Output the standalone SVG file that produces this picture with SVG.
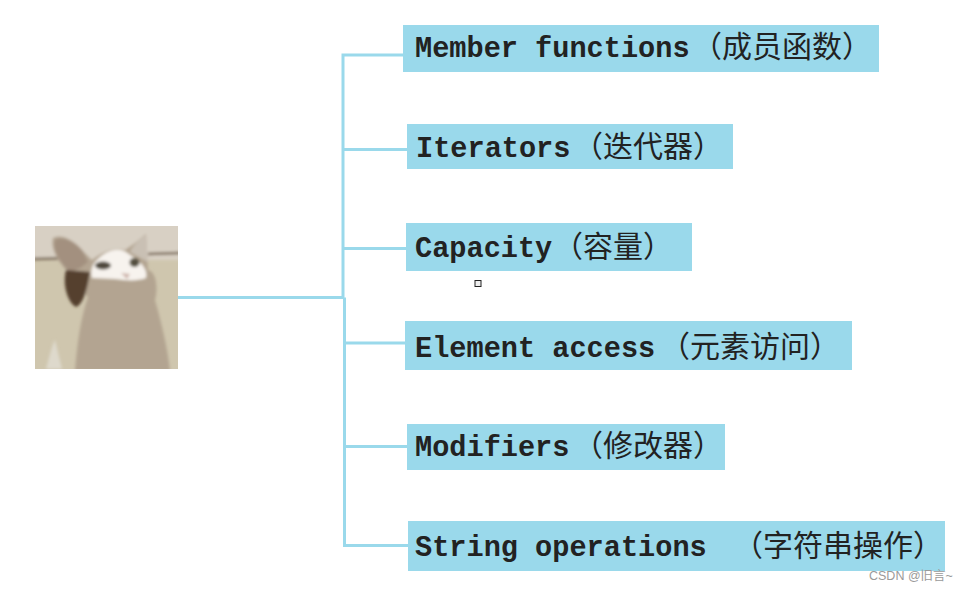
<svg xmlns="http://www.w3.org/2000/svg" width="976" height="591" viewBox="0 0 976 591">
<style>
.box{fill:#9ad9eb}
.c{fill:none;stroke:#9ad9eb;stroke-width:3}
.l{font-family:"Liberation Mono","Noto Sans CJK SC",monospace;font-size:28.6px;font-weight:700;fill:#222}
.z{font-family:"Noto Sans CJK SC","Liberation Mono",sans-serif;font-size:30px;font-weight:400;fill:#222}
.w{font-family:"Liberation Sans","Noto Sans CJK SC",sans-serif;font-size:12.5px;fill:#9a9a9a}
</style>
<defs>
<filter id="b" x="-10%" y="-10%" width="120%" height="120%"><feGaussianBlur stdDeviation="1.6"/></filter>
<clipPath id="cp"><rect x="35" y="226" width="143" height="143"/></clipPath>
</defs>
<g id="connectors">
<path class="c" d="M178 297.500H343.500M403 55H343V149.500M407 149.500H343V248.500M406 248.500H343V297.500M344.500 297.500V545.500H408M405 343H344.500M407 446.500H344.500"/>
</g>
<g id="cat">
<rect x="35" y="226" width="143" height="143" fill="#cfc6ae"/>
<g clip-path="url(#cp)"><g filter="url(#b)">
<rect x="33" y="224" width="147" height="36" fill="#d8d0c4"/>
<path d="M33 259L72 258M148 254L180 253" stroke="#7a6a58" stroke-width="2.500" fill="none"/>
<path d="M75 371C78 335 82 315 88 297C80 290 72 280 68 272C58 262 50 248 53 238C60 234 72 238 82 250L92 260C105 250 115 248 125 250L135 243L146 234L148 270C157 272 158 290 155 300C162 325 168 350 170 371Z" fill="#b3a491"/>
<path d="M55 240C62 236 72 240 82 250L88 262L80 268L70 272C60 262 52 250 55 240Z" fill="#a3907f"/>
<path d="M146 235C137 240 132 248 130 252L148 262Z" fill="#c9c0b4"/>
<path d="M66 270L90 272C88 285 84 304 76 307C68 303 62 285 66 270Z" fill="#55402e"/>
<path d="M95 262C105 250 120 245 130 255C142 262 148 270 146 278C135 282 125 280 115 279L92 278C90 272 92 266 95 262Z" fill="#f7f3ee"/>
<ellipse cx="103" cy="265.500" rx="8" ry="4" fill="#4f483c"/>
<ellipse cx="134.500" cy="262.500" rx="5" ry="4.500" fill="#55503f"/>
<path d="M121 273L130 274L127 279Z" fill="#cdb3aa"/>
<path d="M46 369C50 355 52 345 55 340L62 369Z" fill="#ded9cc"/>
</g></g>
</g>
<g id="n1"><rect class="box" x="403" y="25" width="476" height="47"/><text class="l" x="415" y="57">Member functions</text><text class="z" x="692" y="57">（成员函数）</text></g>
<g id="n2"><rect class="box" x="407" y="124" width="326" height="45"/><text class="l" x="416" y="157">Iterators</text><text class="z" x="573" y="157">（迭代器）</text></g>
<g id="n3"><rect class="box" x="406" y="223" width="286" height="48"/><text class="l" x="415" y="257">Capacity</text><text class="z" x="553" y="257">（容量）</text></g>
<g id="n4"><rect class="box" x="405" y="321" width="447" height="49"/><text class="l" x="415" y="357">Element access</text><text class="z" x="660" y="357">（元素访问）</text></g>
<g id="n5"><rect class="box" x="407" y="424" width="318" height="46"/><text class="l" x="415" y="456">Modifiers</text><text class="z" x="573" y="456">（修改器）</text></g>
<g id="n6"><rect class="box" x="408" y="521" width="537" height="50"/><text class="l" x="415" y="556">String operations</text><text class="z" x="733" y="556">（字符串操作）</text></g>
<rect id="handle" x="475" y="280.500" width="6" height="6" fill="#eee" stroke="#222" stroke-width="1"/>
<text id="watermark" class="w" x="869" y="580">CSDN @旧言~</text>
</svg>
